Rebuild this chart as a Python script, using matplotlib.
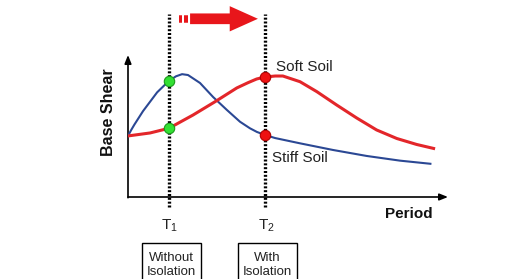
import numpy as np
import matplotlib.pyplot as plt
from matplotlib.patches import Rectangle

plt.rcParams['font.family'] = ['Liberation Sans', 'DejaVu Sans']
plt.rcParams['mathtext.default'] = 'regular'

# period / base shear (arbitrary units, axes run 0..10)
stiff_period = [0, 0.1, 0.2, 0.47, 0.91, 1.28, 1.5, 1.69, 1.875, 2.25, 2.66, 3.09, 3.5, 3.81,
                4.03, 4.28, 4.6, 5.375, 6.41, 7.46, 8.5, 9.45]
stiff_shear = [4.30, 4.72, 5.1, 6.05, 7.37, 8.18, 8.5, 8.65, 8.59, 8.03, 7.04, 6.13, 5.3, 4.84,
               4.58, 4.37, 4.15, 3.78, 3.31, 2.89, 2.56, 2.34]

soft_period = [0, 0.69, 1.28, 1.65, 2.03, 2.72, 3.4, 3.75, 4.02, 4.28, 4.6, 4.84, 5.375,
               5.9, 6.52, 7.15, 7.77, 8.4, 9.02, 9.55]
soft_shear = [4.30, 4.51, 4.84, 5.3, 5.77, 6.71, 7.68, 8.05, 8.31, 8.45, 8.52, 8.52, 8.12,
              7.42, 6.48, 5.56, 4.72, 4.12, 3.70, 3.42]

t_labels = ['T$_1$', 'T$_2$']
t_periods = [1.28, 4.28]
box_labels = ['Without\nIsolation', 'With\nIsolation']
green_shear = [8.18, 4.86]   # at T1 (stiff, soft)
red_shear = [8.45, 4.37]     # at T2 (soft, stiff)

BLUE = '#2b4894'
RED = '#e3262a'
ARROW_RED = '#e8161b'

fig = plt.figure(figsize=(5.31, 2.79), dpi=100)
ax = fig.add_axes([128/531, 82/279, 320/531, 142/279])
ax.set_xlim(0, 10)
ax.set_ylim(0, 10)
ax.axis('off')

# axes with arrow heads
ax.annotate('', xy=(0, 10), xytext=(0, -0.05), annotation_clip=False,
            arrowprops=dict(arrowstyle='-|>,head_length=0.5,head_width=0.2', lw=1.2, color='black',
                            shrinkA=0, shrinkB=0))
ax.annotate('', xy=(10, 0), xytext=(0, 0), annotation_clip=False,
            arrowprops=dict(arrowstyle='-|>,head_length=0.5,head_width=0.2', lw=1.2, color='black',
                            shrinkA=0, shrinkB=0))

# curves
ax.plot(stiff_period, stiff_shear, color=BLUE, lw=1.5, zorder=3)
ax.plot(soft_period, soft_shear, color=RED, lw=2.2, zorder=3)

# dotted period markers
for t in t_periods:
    ax.plot([t, t], [-0.7, 12.9], color='black', lw=2.4, linestyle=(0, (0.6, 0.55)),
            clip_on=False, zorder=4)

ax.plot([t_periods[0]] * 2, green_shear, 'o', ms=7.5, mfc='#33e033', mec='#1a9a1a', mew=0.8, zorder=5)
ax.plot([t_periods[1]] * 2, red_shear, 'o', ms=7.5, mfc='#ee1111', mec='#b00000', mew=0.8, zorder=5)

# big red arrow at top
ax.annotate('', xy=(4.06, 12.55), xytext=(1.94, 12.55), annotation_clip=False,
            arrowprops=dict(arrowstyle='simple,head_length=1.45,head_width=1.3,tail_width=0.55',
                            mutation_scale=14, color=ARROW_RED, lw=0, shrinkA=0, shrinkB=0))
for x0, x1 in [(1.59, 1.69), (1.75, 1.86)]:
    ax.plot([x0, x1], [12.55, 12.55], color=ARROW_RED, lw=5.4, solid_capstyle='butt', clip_on=False)

# texts
ax.text(-0.62, 6.0, 'Base Shear', rotation=90, ha='center', va='center',
        fontsize=11.5, fontweight='bold', color='#111111')
ax.text(8.78, -1.2, 'Period', ha='center', va='center', fontsize=11, fontweight='bold',
        color='#111111')
ax.text(4.63, 9.15, 'Soft Soil', ha='left', va='center', fontsize=11, color='#222222')
ax.text(4.5, 2.75, 'Stiff Soil', ha='left', va='center', fontsize=11, color='#222222')

for t, lab, box in zip(t_periods, t_labels, box_labels):
    ax.text(t + 0.03, -2.05, lab, ha='center', va='center', fontsize=11, color='#222222')
    ax.add_patch(Rectangle((t - 0.84, -7.0), 1.84, 3.76, fill=False, ec='black', lw=1.0,
                           clip_on=False))
    ax.text(t + 0.08, -4.78, box, ha='center', va='center', fontsize=9.5, linespacing=1.25,
            color='#222222')

fig.savefig('out.png', dpi=100)
